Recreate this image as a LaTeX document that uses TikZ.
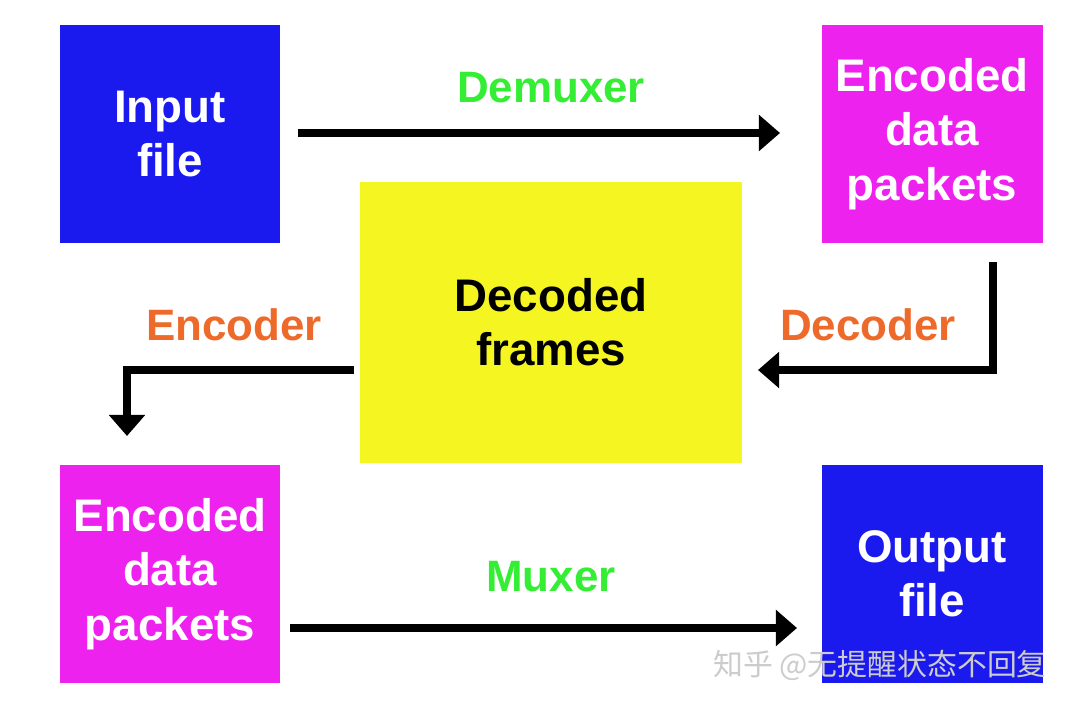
\documentclass[tikz,border=0pt]{standalone}
\usepackage{fontspec}
\setmainfont{Liberation Sans}
\newfontfamily\cjk{Noto Sans CJK SC}
\usetikzlibrary{arrows.meta}
\definecolor{bblue}{HTML}{1A1AEE}
\definecolor{mmag}{HTML}{EE22EE}
\definecolor{yyel}{HTML}{F5F522}
\definecolor{ggreen}{HTML}{33EE33}
\definecolor{oorange}{HTML}{EE6A2A}
\tikzset{
 box/.style={inner sep=0pt,align=center,font=\fontsize{26}{31}\selectfont\bfseries},
 arr/.style={line width=4.5pt,-{Triangle[length=12pt,width=20pt]}},
 lbl/.style={font=\fontsize{25}{30}\selectfont\bfseries}
}
\begin{document}
\begin{tikzpicture}[x=0.02cm,y=-0.02cm]
\useasboundingbox[fill=white] (0,0) rectangle (1092,714);
\fill[bblue] (60,25) rectangle (280,243);
\node[box,text=white] (in) at (170,134) {Input\\file};
\fill[mmag] (822,25) rectangle (1043,243);
\node[box,text=white] (enc1) at (932,134) {Encoded\\data\\packets};
\fill[yyel] (360,182) rectangle (742,463);
\node[box,text=black] (dec) at (551,322) {Decoded\\frames};
\fill[mmag] (60,465) rectangle (280,683);
\node[box,text=white] (enc2) at (170,574) {Encoded\\data\\packets};
\fill[bblue] (822,465) rectangle (1043,683);
\node[box,text=white] (out) at (932,574) {Output\\file};
\coordinate (a1) at (298,133); \coordinate (a2) at (780,133);
\draw[arr] (a1) -- (a2);
\node[lbl,text=ggreen] (l1) at (551,88) {Demuxer};
\coordinate (b1) at (993,262); \coordinate (b2) at (993,370); \coordinate (b3) at (758,370);
\draw[arr] (b1) -- (b2) -- (b3);
\node[lbl,text=oorange] (l2) at (868,325) {Decoder};
\coordinate (c1) at (354,370); \coordinate (c2) at (127,370); \coordinate (c3) at (127,436);
\draw[arr] (c1) -- (c2) -- (c3);
\node[lbl,text=oorange] (l3) at (234,325) {Encoder};
\coordinate (d1) at (290,628); \coordinate (d2) at (797,628);
\draw[arr] (d1) -- (d2);
\node[lbl,text=ggreen] (l4) at (551,577) {Muxer};
\node[font=\cjk\fontsize{17}{20}\selectfont,text=white!60!gray] (wm) at (880,665) {知乎 @无提醒状态不回复};
\end{tikzpicture}
\end{document}
